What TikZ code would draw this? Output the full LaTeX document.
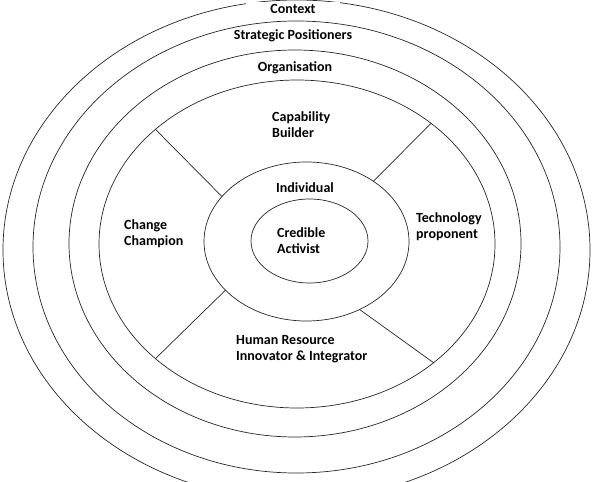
\documentclass[tikz,border=0pt]{standalone}
\usepackage{fontspec}
\setmainfont{Carlito}
\usetikzlibrary{shapes.geometric}

\tikzset{
  ring/.style={ellipse, draw=black!85, line width=0.7pt, inner sep=0pt, outer sep=0pt},
  divider/.style={draw=black!85, line width=0.7pt},
  lbl/.style={font=\bfseries\fontsize{14}{16}\selectfont, inner sep=0pt, align=left},
}

\begin{document}
\begin{tikzpicture}[x=1pt, y=-1pt]
    \useasboundingbox (0,0) rectangle (593,481);
    \clip (0,0) rectangle (593,481);
    % rings, outside in
    \node[ring, minimum width=587pt, minimum height=500pt] (context) at (296.5,250) {};
    \node[ring, minimum width=527pt, minimum height=452pt] (strategic) at (296.5,247) {};
    \node[ring, minimum width=452pt, minimum height=387pt] (organisation) at (295,243.5) {};
    \node[ring, minimum width=396pt, minimum height=328pt] (roles) at (297,244) {};
    \node[ring, minimum width=205pt, minimum height=159pt] (individual) at (306.5,241.5) {};
    \node[ring, minimum width=117pt, minimum height=84pt] (activist) at (309.5,241) {};
    % dividers between the role segments
    \draw[divider] (individual.152) -- (roles.141);
    \draw[divider] (individual.42) -- (roles.42);
    \draw[divider] (individual.211) -- (roles.219);
    \draw[divider] (individual.308) -- (roles.319);
    % labels
    \node[lbl, fill=white, minimum width=94pt, minimum height=14pt] (contextlbl) at (293,9) {Context};
    \node[lbl] (strategiclbl) at (293,36) {Strategic Positioners};
    \node[lbl] (organisationlbl) at (295,68) {Organisation};
    \node[lbl, anchor=west] (capability) at (272,125) {Capability\\Builder};
    \node[lbl] (individuallbl) at (305,188) {Individual};
    \node[lbl, anchor=west] (activistlbl) at (277,241) {Credible\\Activist};
    \node[lbl, anchor=west] (change) at (124,234) {Change\\Champion};
    \node[lbl, anchor=west] (technology) at (416,226.5) {Technology\\proponent};
    \node[lbl, anchor=west] (hr) at (236,349) {Human Resource\\Innovator \& Integrator};
\end{tikzpicture}
\end{document}
